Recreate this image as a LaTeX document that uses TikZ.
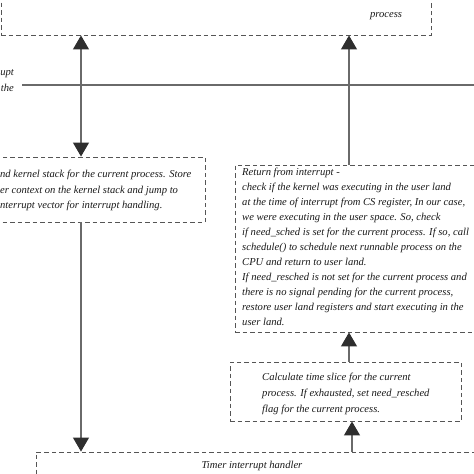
\documentclass[tikz,border=0pt]{standalone}
\usepackage{fontspec}
\setmainfont{Liberation Serif}
\usetikzlibrary{arrows.meta}
\definecolor{linegray}{HTML}{6A6A6A}
\definecolor{tipgray}{HTML}{2E2E2E}
\definecolor{dashgray}{HTML}{555555}
\begin{document}
\begin{tikzpicture}[x=1pt,y=-1pt,
  box/.style={draw=dashgray, line width=0.9pt, dash pattern=on 4.5pt off 3pt, inner sep=0pt},
  txt/.style={inner sep=0pt, align=left, font=\itshape\fontsize{10.6}{15}\selectfont, text=black!90},
  conn/.style={draw=linegray, line width=1.1pt},
  tip/.style={-{Triangle[width=16pt,length=14pt,fill=tipgray,color=tipgray]}},
  tipb/.style={{Triangle[width=16pt,length=14pt,fill=tipgray,color=tipgray]}-{Triangle[width=16pt,length=14pt,fill=tipgray,color=tipgray]}}
]
\useasboundingbox (0,0) rectangle (474,474);
\begin{scope}
\clip (0,0) rectangle (474,474);
% boxes
\node[box, minimum width=430pt, minimum height=55pt] (topb) at (216,7.5) {};
\node[box, minimum width=225pt, minimum height=65pt] (kern) at (92.5,189.5) {};
\node[box, minimum width=250pt, minimum height=167pt] (ret) at (360,248.5) {};
\node[box, minimum width=231pt, minimum height=59pt] (calc) at (345.5,391.5) {};
\node[box, minimum width=450pt, minimum height=50pt] (timer) at (261,477) {};
% texts
\node[txt, anchor=base] (tproc) at (386,17) {process};
\node[txt, anchor=base east] (tupt) at (14,75) {upt};
\node[txt, anchor=base east] (tthe) at (14,91) {the};
\node[txt, anchor=north west, font=\itshape\fontsize{10.6}{15.5}\selectfont] (tkern) at (0,170) {nd kernel stack for the current process. Store\\er context on the kernel stack and jump to\\nterrupt vector for interrupt handling.};
\node[txt, anchor=north west] (tret) at (242,168) {Return from interrupt -\\check if the kernel was executing in the user land\\at the time of interrupt from CS register, In our case,\\we were executing in the user space. So, check\\if need\_sched is set for the current process. If so, call\\schedule() to schedule next runnable process on the\\CPU and return to user land.\\If need\_resched is not set for the current process and\\there is no signal pending for the current process,\\restore user land registers and start executing in the\\user land.};
\node[txt, anchor=north west, font=\itshape\fontsize{10.6}{16}\selectfont] (tcalc) at (262,373) {Calculate time slice for the current\\process. If exhausted, set need\_resched\\flag for the current process.};
\node[txt, anchor=base] (ttimer) at (252,468) {Timer interrupt handler};
% guide coordinates
\coordinate (xl) at (81,0);
\coordinate (xr) at (349,0);
\coordinate (xc) at (352,0);
\coordinate (hl) at (22,85);
\coordinate (hr) at (474,85);
% connectors
\draw[conn] (hl) -- (hr);
\draw[conn, tipb] (topb.south -| xl) -- (kern.north -| xl);
\draw[conn, tip] (kern.south -| xl) -- (timer.north -| xl);
\draw[conn, tip] (ret.north -| xr) -- (topb.south -| xr);
\draw[conn, tip] (calc.north -| xr) -- (ret.south -| xr);
\draw[conn, tip] (timer.north -| xc) -- (calc.south -| xc);
\end{scope}
\end{tikzpicture}
\end{document}
